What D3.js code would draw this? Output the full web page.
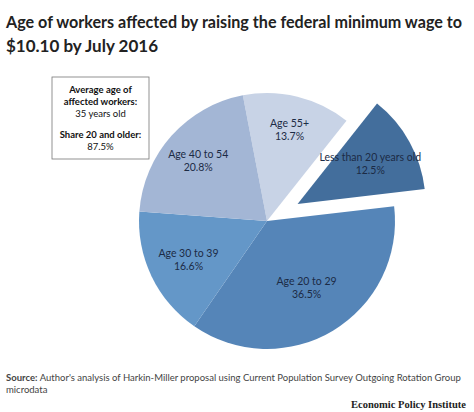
<!DOCTYPE html><html><head><meta charset="utf-8">
<script src="https://d3js.org/d3.v7.min.js"></script>
<style>body{margin:0;background:#fff}</style></head><body>
<svg id="c" width="474" height="412"></svg>
<script>
const categories=["Age 55+","Less than 20 years old","Age 20 to 29","Age 30 to 39","Age 40 to 54"];
const values=[13.7,12.5,36.5,16.6,20.8];
const labels=["13.7%","12.5%","36.5%","16.6%","20.8%"];
const colors=["#c8d3e6","#436e9c","#5585b8","#6497c8","#a3b6d5"];
const svg=d3.select("#c");
const F="Lato, 'Open Sans', sans-serif";
svg.append("text").attr("x",6).attr("y",28).attr("font-family",F).attr("font-weight",700).attr("font-size",17).attr("fill","#222").attr("textLength",456).attr("lengthAdjust","spacingAndGlyphs").text("Age of workers affected by raising the federal minimum wage to");
svg.append("text").attr("x",6).attr("y",52).attr("font-family",F).attr("font-weight",700).attr("font-size",17).attr("fill","#222").text("$10.10 by July 2016");
const cx=267,cy=221,r=128;
const pie=d3.pie().sort(null).startAngle(-0.19).endAngle(-0.19+2*Math.PI);
const arcs=pie(values);
const arc=d3.arc().innerRadius(0).outerRadius(r);
const g=svg.append("g").attr("transform",`translate(${cx},${cy})`);
arcs.forEach((a,i)=>{
  const m=(a.startAngle+a.endAngle)/2;
  const off=i===1?35:0;
  const dx=off*Math.sin(m),dy=-off*Math.cos(m);
  g.append("path").attr("d",arc(a)).attr("fill",colors[i]).attr("transform",`translate(${dx},${dy})`);
  const lr=[0.74,0.65,0.6,0.68,0.72][i]*r;
  const lx=dx+lr*Math.sin(m),ly=dy-lr*Math.cos(m);
  const t=g.append("text").attr("text-anchor","middle").attr("font-family",F).attr("font-size",10.5).attr("fill","#1c2b45");
  t.append("tspan").attr("x",lx).attr("y",ly-2).text(categories[i]);
  t.append("tspan").attr("x",lx).attr("y",ly+11).text(labels[i]);
});
svg.append("rect").attr("x",52).attr("y",77).attr("width",97).attr("height",82).attr("fill","#fff").attr("stroke","#777").attr("stroke-width",0.8);
const bx=100.5;
[["Average age of",93,700],["affected workers:",105,700],["35 years old",117,400],["Share 20 and older:",138,700],["87.5%",150,400]].forEach(d=>{
  svg.append("text").attr("x",bx).attr("y",d[1]).attr("text-anchor","middle").attr("font-family",F).attr("font-size",9.5).attr("font-weight",d[2]).attr("fill","#111").text(d[0]);
});
const s=svg.append("text").attr("font-family",F).attr("font-size",9.5).attr("fill","#444");
s.append("tspan").attr("x",6).attr("y",381).attr("font-weight",700).text("Source: ");
s.append("tspan").text("Author's analysis of Harkin-Miller proposal using Current Population Survey Outgoing Rotation Group");
svg.append("text").attr("x",6).attr("y",393).attr("font-family",F).attr("font-size",9.5).attr("fill","#444").text("microdata");
svg.append("text").attr("x",466).attr("y",408).attr("text-anchor","end").attr("font-family","'Liberation Serif', serif").attr("font-weight",700).attr("font-size",10.5).attr("fill","#222").text("Economic Policy Institute");
</script></body></html>
